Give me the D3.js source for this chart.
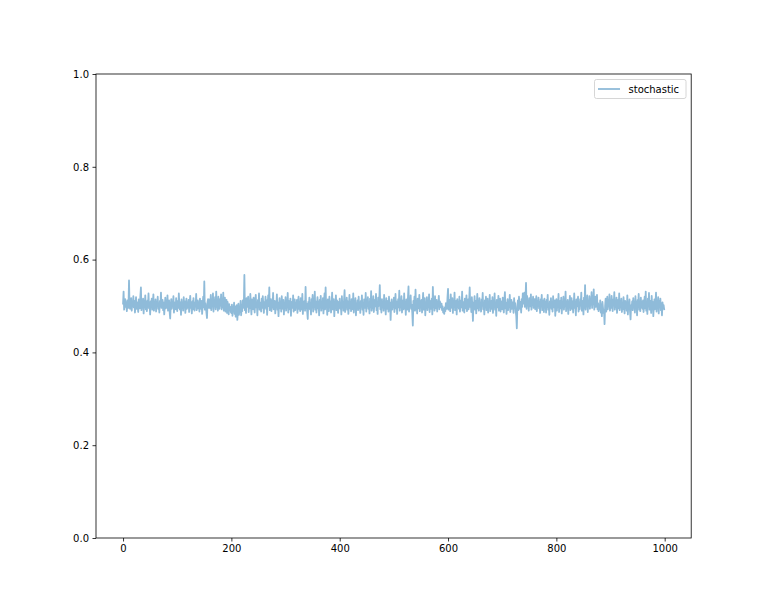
<!DOCTYPE html>
<html><head><meta charset="utf-8">
<script src="https://cdn.jsdelivr.net/npm/d3@7"></script>
<style>body{margin:0;background:#fff}svg{display:block}</style>
</head><body><svg id="c" width="768" height="614"></svg>
<script>
const seriesName = "stochastic";
const xTicks = [0, 200, 400, 600, 800, 1000];
const yTicks = [0.0, 0.2, 0.4, 0.6, 0.8, 1.0];
const values = [
.505,.531,.492,.501,.515,.498,.507,.489,.512,.503,.496,.555,.501,.494,.509,.517,.490,.506,.499,.521,
.497,.511,.486,.503,.519,.494,.508,.500,.487,.514,.502,.495,.522,.540,.491,.505,.498,.516,.484,.509,
.501,.523,.493,.507,.489,.512,.498,.527,.495,.504,.482,.510,.499,.516,.492,.506,.525,.490,.503,.497,
.514,.488,.508,.501,.520,.494,.505,.486,.511,.499,.529,.496,.503,.513,.491,.507,.482,.500,.518,.495,
.509,.497,.523,.490,.504,.512,.488,.473,.501,.515,.494,.506,.499,.521,.486,.508,.502,.493,.517,.500,
.489,.511,.496,.527,.503,.492,.508,.481,.514,.499,.505,.490,.519,.497,.510,.485,.502,.516,.494,.507,
.498,.513,.487,.505,.522,.496,.501,.484,.510,.493,.517,.502,.490,.508,.499,.526,.491,.504,.512,.495,
.507,.488,.516,.500,.494,.511,.483,.503,.520,.497,.553,.492,.506,.498,.485,.474,.509,.515,.496,.504,
.514,.495,.524,.491,.508,.500,.527,.488,.511,.503,.519,.493,.531,.498,.507,.490,.520,.502,.494,.515,
.501,.525,.493,.510,.497,.529,.490,.506,.518,.488,.503,.513,.485,.509,.495,.482,.504,.491,.498,.487,
.485,.503,.479,.496,.490,.507,.483,.499,.477,.493,.502,.470,.489,.505,.481,.496,.487,.511,.480,.498,
.489,.512,.496,.503,.567,.491,.509,.485,.517,.498,.504,.520,.487,.511,.495,.526,.500,.482,.514,.506,
.493,.518,.501,.486,.510,.524,.497,.505,.480,.513,.499,.527,.492,.508,.503,.488,.516,.496,.521,.502,
.485,.509,.498,.520,.494,.512,.481,.506,.523,.500,.540,.491,.504,.515,.489,.510,.497,.528,.493,.502,
.511,.484,.506,.499,.525,.492,.508,.478,.503,.517,.495,.510,.488,.521,.500,.494,.513,.482,.507,.498,
.519,.490,.505,.497,.528,.486,.511,.501,.493,.516,.479,.504,.509,.496,.523,.488,.502,.514,.491,.506,
.498,.513,.485,.507,.520,.494,.503,.489,.517,.500,.492,.526,.483,.508,.497,.511,.490,.541,.496,.505,
.487,.472,.509,.499,.518,.493,.504,.482,.515,.497,.524,.488,.506,.501,.531,.492,.510,.486,.503,.519,
.495,.508,.480,.513,.499,.522,.490,.505,.496,.517,.484,.509,.527,.493,.540,.498,.506,.481,.514,.502,
.489,.520,.497,.510,.486,.504,.529,.493,.501,.515,.478,.507,.498,.523,.491,.512,.500,.485,.509,.496,
.516,.494,.503,.482,.521,.499,.508,.490,.513,.534,.487,.505,.497,.518,.492,.510,.483,.501,.524,.495,
.506,.489,.515,.500,.493,.527,.486,.509,.502,.517,.480,.504,.498,.512,.491,.520,.496,.507,.485,.511,
.499,.523,.492,.505,.481,.514,.501,.496,.528,.488,.510,.503,.519,.494,.507,.484,.516,.498,.532,.490,
.508,.495,.521,.487,.504,.513,.499,.526,.491,.506,.483,.518,.500,.510,.545,.493,.502,.486,.515,.497,
.509,.490,.524,.498,.505,.482,.517,.494,.503,.511,.488,.520,.496,.507,.470,.501,.514,.492,.506,.499,
.518,.487,.504,.526,.495,.510,.483,.502,.515,.497,.533,.490,.508,.499,.521,.486,.505,.512,.493,.527,
.496,.509,.481,.514,.500,.492,.518,.542,.488,.506,.499,.523,.494,.503,.485,.458,.511,.497,.520,.490,
.535,.493,.507,.484,.516,.501,.495,.524,.489,.510,.498,.513,.486,.505,.528,.492,.502,.517,.480,.508,
.497,.519,.491,.506,.500,.525,.487,.511,.494,.503,.516,.482,.541,.498,.509,.490,.521,.495,.504,.513,
.488,.507,.499,.522,.493,.510,.503,.497,.505,.491,.499,.486,.494,.483,.497,.489,.506,.501,.494,.518,
.537,.492,.506,.513,.489,.525,.500,.496,.517,.485,.508,.498,.529,.491,.503,.511,.482,.515,.499,.507,
.494,.520,.488,.504,.512,.497,.531,.490,.509,.501,.486,.516,.495,.506,.523,.489,.502,.514,.493,.510,
.540,.498,.505,.487,.519,.496,.468,.508,.500,.521,.492,.511,.484,.503,.526,.495,.509,.490,.517,.499,
.506,.488,.514,.501,.528,.493,.507,.482,.512,.498,.520,.491,.504,.516,.486,.509,.497,.524,.489,.503,
.511,.494,.519,.485,.506,.500,.527,.492,.508,.479,.513,.502,.497,.522,.490,.505,.516,.488,.510,.499,
.493,.518,.501,.486,.512,.530,.495,.507,.483,.504,.515,.491,.509,.498,.524,.487,.503,.513,.494,.508,
.500,.485,.517,.496,.506,.489,.478,.452,.499,.512,.491,.520,.503,.494,.509,.486,.515,.498,.527,.505,
.508,.529,.498,.515,.550,.494,.522,.503,.511,.490,.517,.506,.499,.525,.492,.513,.504,.520,.496,.509,
.515,.493,.506,.521,.489,.510,.501,.518,.495,.507,.485,.514,.499,.524,.491,.504,.512,.487,.516,.497,
.509,.486,.513,.498,.524,.492,.505,.481,.510,.500,.517,.494,.503,.488,.521,.497,.506,.512,.479,.502,
.515,.490,.507,.499,.526,.487,.503,.511,.495,.518,.484,.506,.498,.520,.492,.509,.501,.531,.489,.504,
.497,.513,.483,.508,.500,.522,.491,.505,.517,.494,.510,.486,.502,.527,.496,.509,.480,.514,.499,.506,
.520,.488,.507,.493,.515,.501,.529,.490,.504,.511,.482,.518,.496,.545,.492,.508,.500,.523,.487,.510,
.499,.521,.494,.513,.503,.530,.496,.517,.505,.536,.492,.511,.520,.498,.508,.524,.493,.506,.489,.501,
.494,.512,.486,.503,.478,.509,.497,.485,.491,.461,.500,.516,.488,.506,.520,.493,.511,.499,.525,.490,
.508,.496,.522,.501,.489,.514,.506,.530,.492,.510,.498,.518,.485,.504,.513,.495,.527,.491,.507,.500,
.516,.487,.505,.493,.519,.500,.484,.511,.497,.508,.490,.523,.482,.506,.499,.514,.488,.471,.502,.495,
.510,.491,.517,.498,.504,.486,.521,.496,.508,.480,.513,.500,.526,.492,.505,.489,.518,.497,.509,.494,
.512,.487,.503,.520,.495,.531,.490,.507,.483,.516,.499,.528,.492,.504,.511,.485,.522,.496,.509,.478,
.501,.514,.493,.506,.529,.488,.503,.497,.519,.484,.510,.499,.516,.491,.505,.480,.508,.496,.502,.493
];

const L = 96, R = 691.2, T = 74, B = 538;
const FS = 10, TICK = 3.5;
const svg = d3.select("#c");
const n = values.length;
const pad = (n - 1) * 0.05;
const x = d3.scaleLinear().domain([0 - pad, n - 1 + pad]).range([L, R]);
const y = d3.scaleLinear().domain([0, 1]).range([B, T]);

const line = d3.line().x((d, i) => x(i)).y(d => y(d));
svg.append("path").datum(values)
  .attr("d", line).attr("fill", "none")
  .attr("stroke", "#1f77b4").attr("stroke-opacity", 0.5)
  .attr("stroke-width", 1.8).attr("stroke-linejoin", "round").attr("stroke-linecap", "square");

const xa = svg.append("g").attr("transform", `translate(0,${B})`)
  .call(d3.axisBottom(x).tickValues(xTicks).tickFormat(d3.format("d")).tickSizeOuter(0).tickSize(TICK).tickPadding(TICK));
const ya = svg.append("g").attr("transform", `translate(${L},0)`)
  .call(d3.axisLeft(y).tickValues(yTicks).tickFormat(d3.format(".1f")).tickSizeOuter(0).tickSize(TICK).tickPadding(TICK));
[xa, ya].forEach(a => {
  a.select(".domain").remove();
  a.selectAll("line").attr("stroke", "#000").attr("stroke-width", 0.8);
  a.selectAll("text").attr("font-family", "DejaVu Sans").attr("font-size", FS).attr("fill", "#000");
});

svg.append("rect").attr("x", L).attr("y", T).attr("width", R - L).attr("height", B - T)
  .attr("fill", "none").attr("stroke", "#000").attr("stroke-width", 0.8);

// legend
const lg = svg.append("g");
lg.append("rect").attr("x", 594.5).attr("y", 79.5).attr("width", 91.5).attr("height", 19)
  .attr("rx", 2).attr("fill", "#fff").attr("fill-opacity", 0.8).attr("stroke", "#cccccc").attr("stroke-width", 0.8);
lg.append("line").attr("x1", 598).attr("x2", 620).attr("y1", 89).attr("y2", 89)
  .attr("stroke", "#1f77b4").attr("stroke-opacity", 0.5).attr("stroke-width", 1.8);
lg.append("text").attr("x", 628.5).attr("y", 92.6).text(seriesName)
  .attr("font-family", "DejaVu Sans").attr("font-size", FS).attr("fill", "#000");
</script></body></html>
